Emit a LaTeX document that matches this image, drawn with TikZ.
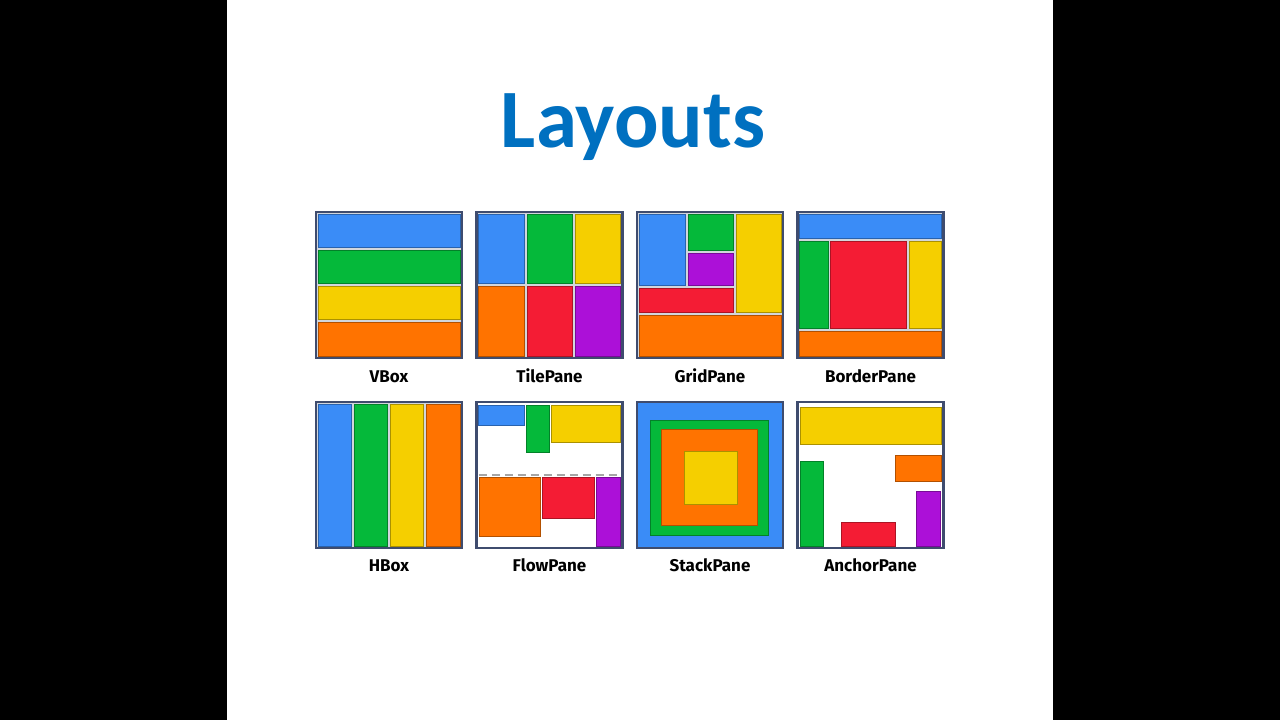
\documentclass[tikz,border=0pt]{standalone}
\usepackage{fontspec}
\usetikzlibrary{positioning}
\newfontfamily\titlefont{Carlito}
\newfontfamily\lblfont{Fira Sans}
\definecolor{titlec}{HTML}{0070C0}
\definecolor{framec}{HTML}{3F4C6E}
\definecolor{gapc}{HTML}{D2D6DC}
\definecolor{cblue}{HTML}{3A8CF7}
\definecolor{cgreen}{HTML}{05B93A}
\definecolor{cyellow}{HTML}{F5CF00}
\definecolor{corange}{HTML}{FF7300}
\definecolor{cred}{HTML}{F41C34}
\definecolor{cpurple}{HTML}{AC10D8}
\tikzset{
  panel/.style={rectangle,draw=framec,line width=2.2pt,fill=gapc,
    minimum width=146pt,minimum height=146pt,inner sep=0pt,outer sep=0pt},
  cell/.style={fill=#1,draw=#1!70!black,line width=0.6pt},
  lbl/.style={font=\lblfont\bfseries\fontsize{17}{17}\selectfont,inner sep=0pt,
    text height=13pt,text depth=0pt},
  flowline/.style={draw=black!35,line width=2.5pt,dash pattern=on 8pt off 5pt}
}
\begin{document}
\begin{tikzpicture}[x=1pt,y=-1pt]
  \useasboundingbox (0,0) rectangle (1280,720);
  \fill[black] (0,0) rectangle (1280,720);
  \fill[white] (227,0) rectangle (1053,720);
  \node[font=\titlefont\bfseries\fontsize{83}{83}\selectfont,text=titlec,
    anchor=base] (title) at (633,147) {Layouts};

  % panels
  \node[panel] (vbox) at (389,285) {};
  \node[panel,right=14.5pt of vbox] (tile) {};
  \node[panel,right=14.5pt of tile] (grid) {};
  \node[panel,right=14.5pt of grid] (border) {};
  \node[panel,below=44pt of vbox] (hbox) {};
  \node[panel,fill=white,right=14.5pt of hbox] (flow) {};
  \node[panel,fill=cblue,right=14.5pt of flow] (stack) {};
  \node[panel,fill=white,right=14.5pt of stack] (anchor) {};

  \node[lbl,below=11pt of vbox] (vboxlbl) {VBox};
  \node[lbl,below=11pt of tile] (tilelbl) {TilePane};
  \node[lbl,below=11pt of grid] (gridlbl) {GridPane};
  \node[lbl,below=11pt of border] (borderlbl) {BorderPane};
  \node[lbl,below=10pt of hbox] (hboxlbl) {HBox};
  \node[lbl,below=10pt of flow] (flowlbl) {FlowPane};
  \node[lbl,below=10pt of stack] (stacklbl) {StackPane};
  \node[lbl,below=10pt of anchor] (anchorlbl) {AnchorPane};

  % VBox and HBox
  \foreach \c [count=\i from 0] in {cblue,cgreen,cyellow,corange} {
    \begin{scope}[shift={(vbox.north west)}]
      \draw[cell=\c] (2,2+\i*36.25) rectangle (144,35.25+\i*36.25);
    \end{scope}
    \begin{scope}[shift={(hbox.north west)}]
      \draw[cell=\c] (2+\i*36.25,2) rectangle (35.25+\i*36.25,144);
    \end{scope}
  }

  % TilePane
  \begin{scope}[shift={(tile.north west)}]
    \draw[cell=cblue] (2,2) rectangle (47.3,71.5);
    \draw[cell=cgreen] (50.3,2) rectangle (95.7,71.5);
    \draw[cell=cyellow] (98.7,2) rectangle (144,71.5);
    \draw[cell=corange] (2,74.5) rectangle (47.3,144);
    \draw[cell=cred] (50.3,74.5) rectangle (95.7,144);
    \draw[cell=cpurple] (98.7,74.5) rectangle (144,144);
  \end{scope}

  % GridPane
  \begin{scope}[shift={(grid.north west)}]
    \draw[cell=cblue] (2,2) rectangle (48,73);
    \draw[cell=cgreen] (51,2) rectangle (96,38);
    \draw[cell=cpurple] (51,41) rectangle (96,73);
    \draw[cell=cyellow] (99,2) rectangle (144,100);
    \draw[cell=cred] (2,76) rectangle (96,100);
    \draw[cell=corange] (2,103) rectangle (144,144);
  \end{scope}

  % BorderPane
  \begin{scope}[shift={(border.north west)}]
    \draw[cell=cblue] (2,2) rectangle (144,26);
    \draw[cell=cgreen] (2,29) rectangle (31,116);
    \draw[cell=cred] (33,29) rectangle (109,116);
    \draw[cell=cyellow] (112,29) rectangle (144,116);
    \draw[cell=corange] (2,119) rectangle (144,144);
  \end{scope}

  % FlowPane
  \begin{scope}[shift={(flow.north west)}]
    \draw[cell=cblue] (2,3) rectangle (48,23.5);
    \draw[cell=cgreen] (49.5,3) rectangle (73,50.5);
    \draw[cell=cyellow] (75,3) rectangle (143.5,40);
    \draw[flowline] (2,73) -- (144,73);
    \draw[cell=corange] (3,75) rectangle (63.5,134.5);
    \draw[cell=cred] (66,75) rectangle (117.5,116);
    \draw[cell=cpurple] (119.5,75) rectangle (143.5,144);
  \end{scope}

  % StackPane
  \begin{scope}[shift={(stack.north west)}]
    \draw[cell=cgreen] (13.7,18) rectangle (131.3,133.7);
    \draw[cell=corange] (24.7,27) rectangle (120.7,123);
    \draw[cell=cyellow] (47,49) rectangle (100.3,102.3);
  \end{scope}

  % AnchorPane
  \begin{scope}[shift={(anchor.north west)}]
    \draw[cell=cyellow] (3,5.5) rectangle (144,42.3);
    \draw[cell=cgreen] (3,59) rectangle (26,144);
    \draw[cell=corange] (97.5,53.7) rectangle (144,79);
    \draw[cell=cpurple] (119,89.7) rectangle (143,144);
    \draw[cell=cred] (44,120) rectangle (97.5,144);
  \end{scope}
\end{tikzpicture}
\end{document}
